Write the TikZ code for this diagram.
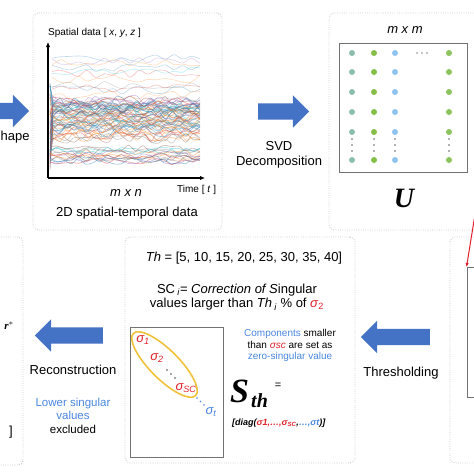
\documentclass[tikz,border=0pt]{standalone}
\usepackage{fontspec}
\setmainfont{Liberation Sans}
\newfontfamily\timesfont{Liberation Serif}
\usetikzlibrary{shapes.arrows,shapes.geometric,arrows.meta}
\definecolor{arrowblue}{HTML}{4472C4}
\definecolor{panelgray}{HTML}{C8C8C8}
\definecolor{redtxt}{HTML}{E2222B}
\definecolor{bluetxt}{HTML}{4A86E0}
\definecolor{ellyellow}{HTML}{F0C23A}
\definecolor{dotteal}{HTML}{8CBEB0}
\definecolor{dotgreen}{HTML}{86BF48}
\definecolor{dotgreenb}{HTML}{8DC35E}
\definecolor{dotblue}{HTML}{90C4EE}
\definecolor{tabc0}{HTML}{1F77B4}
\definecolor{tabc1}{HTML}{FF7F0E}
\definecolor{tabc2}{HTML}{7F7F7F}
\definecolor{tabc3}{HTML}{8C564B}
\definecolor{tabc4}{HTML}{1F77B4}
\definecolor{tabc5}{HTML}{D62728}
\definecolor{tabc6}{HTML}{17BECF}
\definecolor{tabc7}{HTML}{FF7F0E}
\definecolor{tabc8}{HTML}{9467BD}
\definecolor{tabc9}{HTML}{7F7F7F}
\begin{document}
\begin{tikzpicture}[x=1pt,y=-1pt,
  panel/.style={draw=panelgray, line width=0.9pt, dash pattern=on 0.8pt off 1.5pt, rounded corners=5pt, inner sep=0pt},
  bigarrow/.style={single arrow, fill=arrowblue, draw=none, inner xsep=0pt, inner ysep=8pt,
     single arrow head extend=8pt, single arrow tip angle=90},
  lbl/.style={inner sep=0pt, font=\fontsize{13}{15}\selectfont},
  smalllbl/.style={inner sep=0pt, font=\fontsize{10}{11.5}\selectfont},
  matbox/.style={draw=black!55, line width=1pt, inner sep=0pt},
  sig/.style={inner sep=0pt, font=\fontsize{13}{13}\selectfont\itshape},
  axis/.style={line width=1.6pt, -{Latex[length=5pt,width=4.5pt]}},
  dgm/.style={line width=0.6pt},
]
\useasboundingbox (0,0) rectangle (474,474);
\clip (0,0) rectangle (474,474);

% panels
\node[panel, minimum width=189, minimum height=217] (p2d) at (127.5,121.5) {};
\node[panel, minimum width=191, minimum height=217] (pU) at (424.5,121.5) {};
\node[panel, minimum width=63, minimum height=228] (pL) at (-8.5,351) {};
\node[panel, minimum width=230, minimum height=226] (pM) at (240,350) {};
\node[panel, minimum width=70, minimum height=226] (pR) at (485,350) {};

% block arrows
\node[bigarrow, minimum height=50] (aReshape) at (0,111) {};
\node[bigarrow, minimum height=51] (aSVD) at (279.5,111.5) {};
\node[bigarrow, minimum height=68, shape border rotate=180] (aRec) at (73,335.5) {};
\node[bigarrow, minimum height=69, shape border rotate=180] (aTh) at (399.5,337) {};

\node[lbl, anchor=west] (tReshape) at (0.5,137) {hape};
\node[lbl, align=center, font=\fontsize{13}{15}\selectfont] (tSVD) at (279,154.5) {SVD\\Decomposition};
\node[lbl] (tRec) at (73,370) {Reconstruction};
\node[inner sep=0pt, align=center, font=\fontsize{11.5}{13.5}\selectfont] (tLower) at (73,415.5)
  {\textcolor{bluetxt}{Lower singular}\\\textcolor{bluetxt}{values}\\excluded};
\node[lbl] (tTh) at (401,373) {Thresholding};

% 2D spatial-temporal chart
\pgfmathsetseed{11}
\foreach \b/\c in {58/tabc0,63/tabc1,68/tabc0,74/tabc5,79/tabc1,85/tabc2,90/tabc0,95/tabc1,61/tabc8,71/tabc6,88/tabc5}{
  \draw[dgm, color=\c, opacity=.28] plot[smooth, samples=18, domain=52:200] (\x,{\b+4*rand});
}
\foreach \i in {1,...,60}{
  \pgfmathsetmacro\b{101+38*rnd}
  \pgfmathtruncatemacro\k{mod(\i,10)}
  \pgfmathsetmacro\s{82+88*rnd}
  \draw[dgm, color=tabc\k, opacity=.42] (50,\s) -- plot[smooth, samples=22, domain=53:200] (\x,{\b+5.5*rand});
}
\foreach \i in {1,...,16}{
  \pgfmathsetmacro\b{148+14*rnd}
  \pgfmathtruncatemacro\k{mod(\i*3,10)}
  \draw[dgm, color=tabc\k, opacity=.45] plot[smooth, samples=22, domain=50:200] (\x,{\b+3.5*rand});
}
\coordinate (origin) at (48,178);
\coordinate (ytop) at (48,42);
\coordinate (xend) at (205,178);
\draw[axis] (origin) -- (ytop);
\draw[axis] (origin) -- (xend);
\node[inner sep=0pt, anchor=west, font=\fontsize{10}{12}\selectfont] (tSpatial) at (48,33)
  {Spatial data [ \textit{x}, \textit{y}, \textit{z} ]};
\node[inner sep=0pt, anchor=west, font=\fontsize{10}{12}\selectfont] (tTime) at (177,190) {Time [ \textit{t} ]};
\node[lbl, font=\fontsize{13}{15}\selectfont\itshape] (tmn) at (126,193) {m x n};
\node[lbl] (t2d) at (127,213) {2D spatial-temporal data};

% U matrix
\node[lbl, font=\fontsize{13}{15}\selectfont\itshape] (tmm) at (405,30) {m x m};
\node[matbox, minimum width=128, minimum height=129] (Umat) at (403,107.5) {};
\foreach \y in {53,72,92,112,132,160}{
  \fill[dotteal] (352,\y) circle (3);
  \fill[dotgreen] (374,\y) circle (3);
  \fill[dotblue] (395,\y) circle (3);
  \fill[dotgreenb] (449,\y) circle (3);
}
\foreach \x in {352,374,395,449}{
  \foreach \y in {139,145,151}{ \fill[black!60] (\x,\y) circle (0.9); }
}
\foreach \x in {417,422,427}{ \fill[black!45] (\x,53) circle (0.8); }
\node[inner sep=0pt, font=\timesfont\bfseries\itshape\fontsize{28}{28}\selectfont] (tU) at (404,198) {U};

% middle panel: thresholding
\node[lbl] (tThList) at (244,258) {\textit{Th} = [5, 10, 15, 20, 25, 30, 35, 40]};
\node[lbl, align=center, font=\fontsize{13}{14.5}\selectfont] (tSC) at (237,297)
  {SC\,\textsubscript{\textit{i}}= \textit{Correction of S}ingular\\values larger than \textit{Th}\,\textsubscript{\textit{i}} \% of \textcolor{redtxt}{\textit{σ}\textsubscript{2}}};
\node[smalllbl, align=center] (tComp) at (290,345.5)
  {\textcolor{bluetxt}{Components} smaller\\than \textcolor{redtxt}{\textit{σsc}} are set as\\\textcolor{bluetxt}{zero-singular value}};
\node[matbox, minimum width=93, minimum height=130] (Smat) at (176.5,392) {};
\node[draw=ellyellow, line width=1.6pt, ellipse, minimum width=88, minimum height=29, rotate=-45, inner sep=0pt] (ell) at (164.5,364.5) {};
\node[sig, text=redtxt] (s1) at (143,340) {σ\textsubscript{1}};
\node[sig, text=redtxt] (s2) at (157,358) {σ\textsubscript{2}};
\foreach \x/\y in {167/370,171/374,175/378}{ \fill[black!70] (\x,\y) circle (0.9); }
\node[sig, text=redtxt] (ssc) at (186,388) {σ\textsubscript{SC}};
\foreach \x/\y in {197/398,200.5/401.5,204/405}{ \fill[bluetxt] (\x,\y) circle (0.9); }
\node[sig, text=bluetxt] (st) at (211,412) {σ\textsubscript{t}};

\node[inner sep=0pt, anchor=base west, font=\timesfont\bfseries\itshape\fontsize{34}{34}\selectfont] (tS) at (230,402) {S};
\node[inner sep=0pt, anchor=base west, font=\timesfont\bfseries\itshape\fontsize{20}{20}\selectfont] (tth) at (251,407) {th};
\node[inner sep=0pt, font=\fontsize{11}{11}\selectfont] (teq) at (278,386) {=};
\node[inner sep=0pt, anchor=west, font=\bfseries\itshape\fontsize{9}{10}\selectfont] (tdiag) at (232,423)
  {[diag(\textcolor{redtxt}{σ1,…,σ\textsubscript{SC}},\textcolor{bluetxt}{…,σt})]};

% right panel
\node[matbox, minimum width=80, minimum height=130, anchor=north west] (Rmat) at (466.5,267) {};
\coordinate (redsrc) at (478,196);
\draw[draw=redtxt, line width=1pt, -{Latex[length=4pt,width=3.5pt]}] (redsrc) -- (Rmat.north west);

% left panel fragments
\node[inner sep=0pt, font=\timesfont\bfseries\itshape\fontsize{11}{11}\selectfont] (tr) at (9,326) {r$^{\ast}$};
\node[lbl] (tbr) at (11,432) {]};
\end{tikzpicture}
\end{document}
